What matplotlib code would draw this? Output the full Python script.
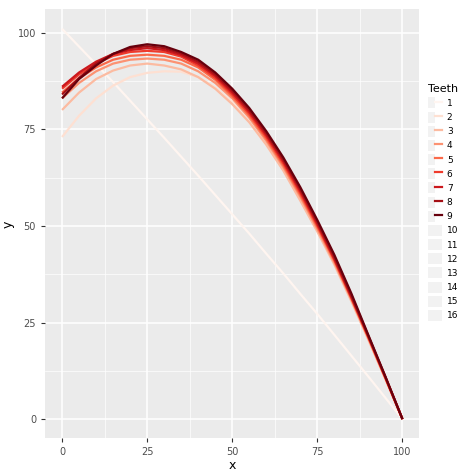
import matplotlib
matplotlib.use("Agg")
import matplotlib.pyplot as plt
from matplotlib.lines import Line2D
from matplotlib.patches import Patch
from matplotlib.legend_handler import HandlerTuple

x = list(range(0, 101, 5))
teeth_levels = [str(i) for i in range(1, 17)]
series = {
    "1": [101, 96.4, 91.8, 87.2, 82.4, 77.6, 72.8, 67.9, 63, 58, 53, 48, 42.8, 37.7, 32.4, 27.2, 21.8, 16.4, 11, 5.5, 0],
    "2": [73, 78.5, 83, 86.3, 88.5, 89.6, 90, 89.9, 88.5, 85.8, 82, 77, 71, 64.5, 57, 48.8, 40, 30.5, 20.5, 10.3, 0],
    "3": [80, 84.5, 88, 90.2, 91.5, 92, 91.5, 90.5, 88.5, 85.5, 81.5, 76.8, 71, 64.3, 56.5, 48.5, 40, 30.5, 20.5, 10.3, 0],
    "4": [83, 87, 90, 92, 93, 93.3, 93, 92, 90, 87, 83, 78, 72, 65.2, 57.5, 49.2, 40.5, 31, 21, 10.6, 0],
    "5": [84.5, 88.2, 91, 93, 94, 94.3, 94, 93, 91, 87.8, 83.5, 78.5, 72.5, 65.7, 58, 49.7, 41, 31.2, 21, 10.6, 0],
    "6": [85.5, 89.2, 92, 94, 95, 95.3, 95, 93.8, 91.5, 88.3, 84, 79, 73, 66.2, 58.5, 50.1, 41.2, 31.4, 21.2, 10.7, 0],
    "7": [86, 89.7, 92.5, 94.5, 95.5, 96, 95.5, 94.2, 92, 88.8, 84.5, 79.5, 73.5, 66.7, 59, 50.5, 41.5, 31.6, 21.3, 10.8, 0],
    "8": [84, 88.3, 92, 94.5, 96, 96.5, 96, 94.6, 92.5, 89.2, 85, 80, 74, 67.2, 59.5, 51, 42, 32, 21.5, 10.9, 0],
    "9": [83, 88, 91.5, 94.5, 96.3, 97, 96.5, 95, 93, 89.7, 85.5, 80.5, 74.5, 67.7, 60, 51.5, 42.5, 32.5, 21.7, 11, 0],
}
colors = ["#FFF5F0", "#FEE0D2", "#FCBBA1", "#FC9272", "#FB6A4A",
          "#EF3B2C", "#CB181D", "#A50F15", "#67000D"]

fig = plt.figure(figsize=(4.74, 4.74), dpi=100)
ax = fig.add_axes([0.095, 0.075, 0.79, 0.905])
ax.set_facecolor("#EBEBEB")
for k, c in zip(series, colors):
    ax.plot(x, series[k], color=c, lw=1.6, solid_capstyle="butt", solid_joinstyle="round")

ax.set_xlim(-5, 105)
ax.set_ylim(-5, 106)
ax.set_xticks([0, 25, 50, 75, 100])
ax.set_yticks([0, 25, 50, 75, 100])
ax.set_xticks([12.5, 37.5, 62.5, 87.5], minor=True)
ax.set_yticks([12.5, 37.5, 62.5, 87.5], minor=True)
ax.grid(True, which="major", color="white", lw=1.1)
ax.grid(True, which="minor", color="white", lw=0.5)
ax.set_axisbelow(True)
for s in ax.spines.values():
    s.set_visible(False)
ax.tick_params(which="major", length=3, color="#333333", labelsize=7, labelcolor="#4D4D4D")
ax.tick_params(which="minor", length=0)
ax.set_xlabel("x", fontsize=9, labelpad=1)
ax.set_ylabel("y", fontsize=9, labelpad=2)

handles = []
for i, lev in enumerate(teeth_levels):
    bg = Patch(facecolor="#F2F2F2", edgecolor="none")
    if i < len(colors):
        handles.append((bg, Line2D([], [], color=colors[i], lw=1.6)))
    else:
        handles.append((bg,))
leg = fig.legend(handles, teeth_levels, title="Teeth", loc="upper left",
                 bbox_to_anchor=(0.895, 0.83), frameon=False, fontsize=6.5,
                 title_fontsize=8, handlelength=1.6, handleheight=1.5,
                 labelspacing=0.35, handletextpad=0.5, borderaxespad=0,
                 handler_map={tuple: HandlerTuple(ndivide=None, pad=0)})
leg._legend_box.align = "left"
fig.savefig("out.png", dpi=100)
